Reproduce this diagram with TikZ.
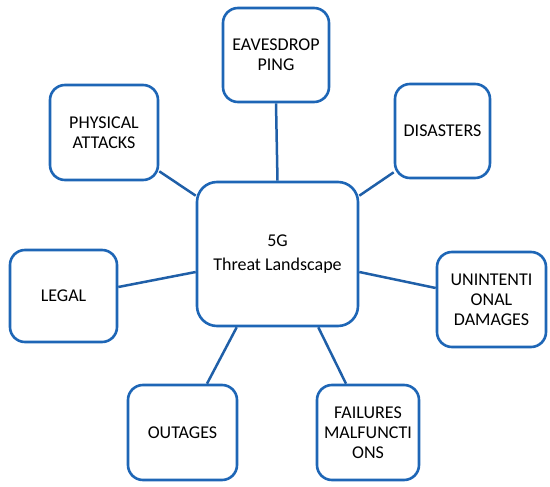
\documentclass[tikz,border=0pt]{standalone}
\usepackage{fontspec}
\setmainfont{Carlito}
\usetikzlibrary{calc}
\definecolor{boxblue}{HTML}{1E66B6}
\definecolor{lineblue}{HTML}{1F5FA8}
\begin{document}
\begin{tikzpicture}[x=1pt,y=-1pt,
  tbox/.style={draw=boxblue,line width=2.6pt,rounded corners=15pt,fill=white,
    align=center,inner sep=2pt,font=\fontsize{18}{20}\selectfont},
  conn/.style={draw=lineblue,line width=2.5pt}]
\useasboundingbox (0,0) rectangle (550,487);
\node[tbox,minimum width=161pt,minimum height=144pt,rounded corners=20pt,
  font=\fontsize{18}{24}\selectfont] (c) at (277.5,254) {5G\\Threat Landscape};
\node[tbox,minimum width=106pt,minimum height=94pt] (eav) at (276,55) {EAVESDROP\\PING};
\node[tbox,minimum width=108pt,minimum height=95pt] (phy) at (104,132.5) {PHYSICAL\\ATTACKS};
\node[tbox,minimum width=95pt,minimum height=94pt] (dis) at (442.5,131) {DISASTERS};
\node[tbox,minimum width=107pt,minimum height=92pt] (leg) at (63.5,296) {LEGAL};
\node[tbox,minimum width=109pt,minimum height=95pt] (uni) at (491.5,299.5) {UNINTENTI\\ONAL\\DAMAGES};
\node[tbox,minimum width=109pt,minimum height=95pt] (out) at (182.5,432.5) {OUTAGES};
\node[tbox,minimum width=102pt,minimum height=95pt] (fai) at (368,432.5) {FAILURES\\MALFUNCTI\\ONS};
\draw[conn] (eav.south) -- (c.north);
\draw[conn] ($(phy.south east)+(0,-10)$) -- ($(c.north west)+(0,15)$);
\draw[conn] ($(dis.south west)+(0,-7)$) -- ($(c.north east)+(0,15)$);
\draw[conn] ($(leg.east)+(0,-9)$) -- ($(c.west)+(0,18)$);
\draw[conn] ($(uni.west)+(0,-11.5)$) -- ($(c.east)+(0,18)$);
\draw[conn] ($(out.north)+(24.5,0)$) -- ($(c.south west)+(41,0)$);
\draw[conn] ($(fai.north)+(-22,0)$) -- ($(c.south east)+(-41,0)$);
\end{tikzpicture}
\end{document}
